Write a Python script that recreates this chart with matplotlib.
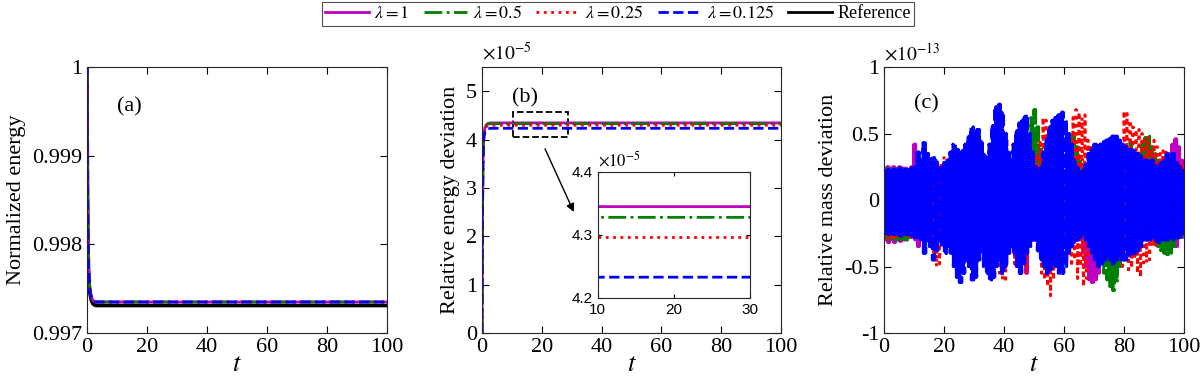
import numpy as np
import matplotlib
matplotlib.use("Agg")
from matplotlib import pyplot as plt
from matplotlib.patches import Rectangle
from matplotlib.lines import Line2D

plt.rcParams['font.family'] = ['Liberation Serif', 'DejaVu Serif']
plt.rcParams['mathtext.fontset'] = 'stix'
plt.rcParams['axes.unicode_minus'] = False

# legend / series labels
labels = [r'$\lambda=1$', r'$\lambda=0.5$', r'$\lambda=0.25$', r'$\lambda=0.125$', 'Reference']
colors = ['#c000c0', '#008000', '#ff0000', '#0000ff', 'black']
styles = ['-', '-.', ':', '--', '-']

# (a) normalized energy
t_a = [0, 0.1, 0.2, 0.3, 0.5, 0.75, 1.0, 1.5, 2.0, 2.5, 3.0, 100]
energy_num = [1.0, 0.9990, 0.9985, 0.9981, 0.99775, 0.99758, 0.99748, 0.99740,
              0.99737, 0.997355, 0.99735, 0.99735]
energy_ref = [1.0, 0.9990, 0.9985, 0.9981, 0.99772, 0.99754, 0.99744, 0.99736,
              0.99733, 0.997315, 0.99731, 0.99731]

# (b) relative energy deviation, in units of 1e-5
t_b = [0, 0.1, 0.2, 0.3, 0.5, 0.75, 1.0, 1.5, 2.0, 3.0, 100]
dev_l1 = [0, 1.5, 2.8, 3.5, 4.0, 4.17, 4.25, 4.31, 4.335, 4.345, 4.345]
dev_l05 = [0, 1.5, 2.8, 3.5, 4.0, 4.16, 4.24, 4.30, 4.32, 4.328, 4.328]
dev_l025 = [0, 1.5, 2.8, 3.5, 4.0, 4.14, 4.22, 4.27, 4.29, 4.296, 4.296]
dev_l0125 = [0, 1.5, 2.8, 3.5, 3.95, 4.09, 4.16, 4.21, 4.225, 4.233, 4.233]

# (c) relative mass deviation envelopes (units of 1e-13), one value per t = 0..100
t_c = list(range(101))
blue_up = [0.22, 0.23, 0.22, 0.23, 0.22, 0.24, 0.22, 0.23, 0.22, 0.24,
           0.25, 0.36, 0.30, 0.43, 0.35, 0.30, 0.34, 0.30, 0.25, 0.26,
           0.28, 0.30, 0.36, 0.42, 0.38, 0.35, 0.37, 0.42, 0.48, 0.55,
           0.50, 0.53, 0.45, 0.35, 0.32, 0.42, 0.56, 0.70, 0.72, 0.66,
           0.50, 0.36, 0.30, 0.42, 0.52, 0.58, 0.62, 0.63, 0.50, 0.36,
           0.25, 0.20, 0.24, 0.36, 0.46, 0.55, 0.60, 0.62, 0.64, 0.66,
           0.60, 0.50, 0.42, 0.30, 0.25, 0.20, 0.22, 0.27, 0.35, 0.38,
           0.42, 0.40, 0.42, 0.44, 0.45, 0.46, 0.48, 0.48, 0.45, 0.42,
           0.40, 0.38, 0.38, 0.37, 0.35, 0.33, 0.30, 0.30, 0.28, 0.30,
           0.26, 0.25, 0.28, 0.30, 0.35, 0.30, 0.35, 0.28, 0.25, 0.22,
           0.20]
blue_lo = [-0.25, -0.26, -0.25, -0.26, -0.25, -0.27, -0.25, -0.26, -0.26, -0.27,
           -0.28, -0.28, -0.30, -0.40, -0.30, -0.35, -0.45, -0.38, -0.30, -0.35,
           -0.40, -0.35, -0.40, -0.50, -0.58, -0.62, -0.55, -0.45, -0.50, -0.60,
           -0.58, -0.45, -0.40, -0.50, -0.55, -0.60, -0.58, -0.50, -0.45, -0.55,
           -0.50, -0.40, -0.35, -0.40, -0.50, -0.55, -0.48, -0.40, -0.35, -0.30,
           -0.30, -0.38, -0.45, -0.50, -0.55, -0.52, -0.48, -0.50, -0.55, -0.55,
           -0.50, -0.40, -0.35, -0.32, -0.30, -0.28, -0.25, -0.30, -0.35, -0.40,
           -0.45, -0.50, -0.48, -0.45, -0.42, -0.45, -0.48, -0.45, -0.42, -0.45,
           -0.45, -0.42, -0.40, -0.40, -0.38, -0.35, -0.30, -0.30, -0.30, -0.28,
           -0.30, -0.32, -0.30, -0.30, -0.30, -0.28, -0.30, -0.28, -0.30, -0.25,
           -0.22]
red_up = [0.20, 0.20, 0.20, 0.22, 0.20, 0.22, 0.20, 0.20, 0.22, 0.26,
          0.22, 0.20, 0.22, 0.20, 0.22, 0.20, 0.22, 0.22, 0.26, 0.28,
          0.33, 0.30, 0.20, 0.20, 0.22, 0.20, 0.22, 0.20, 0.22, 0.20,
          0.20, 0.22, 0.20, 0.20, 0.22, 0.20, 0.20, 0.22, 0.20, 0.45,
          0.48, 0.46, 0.30, 0.20, 0.22, 0.20, 0.22, 0.20, 0.30, 0.32,
          0.30, 0.35, 0.45, 0.62, 0.60, 0.55, 0.45, 0.40, 0.35, 0.30,
          0.30, 0.35, 0.45, 0.62, 0.68, 0.66, 0.62, 0.64, 0.45, 0.42,
          0.40, 0.38, 0.35, 0.30, 0.30, 0.30, 0.30, 0.30, 0.35, 0.45,
          0.67, 0.65, 0.60, 0.55, 0.53, 0.53, 0.50, 0.45, 0.48, 0.38,
          0.45, 0.40, 0.35, 0.37, 0.38, 0.30, 0.28, 0.25, 0.30, 0.28,
          0.25]
red_lo = [-0.28, -0.30, -0.28, -0.30, -0.28, -0.30, -0.28, -0.29, -0.30, -0.28,
          -0.28, -0.26, -0.26, -0.30, -0.30, -0.30, -0.40, -0.50, -0.48, -0.30,
          -0.30, -0.30, -0.35, -0.35, -0.30, -0.30, -0.30, -0.30, -0.30, -0.30,
          -0.30, -0.30, -0.30, -0.30, -0.49, -0.35, -0.30, -0.40, -0.55, -0.60,
          -0.62, -0.40, -0.30, -0.48, -0.30, -0.30, -0.45, -0.55, -0.35, -0.30,
          -0.30, -0.40, -0.55, -0.60, -0.65, -0.72, -0.60, -0.45, -0.40, -0.35,
          -0.35, -0.40, -0.50, -0.45, -0.59, -0.50, -0.65, -0.59, -0.40, -0.35,
          -0.35, -0.30, -0.30, -0.30, -0.30, -0.30, -0.30, -0.35, -0.40, -0.50,
          -0.45, -0.55, -0.51, -0.45, -0.55, -0.58, -0.50, -0.47, -0.45, -0.35,
          -0.34, -0.30, -0.30, -0.28, -0.28, -0.28, -0.28, -0.28, -0.28, -0.28,
          -0.25]
green_up = [0.23, 0.24, 0.22, 0.24, 0.23, 0.24, 0.22, 0.22, 0.23, 0.22,
            0.22, 0.22, 0.22, 0.22, 0.28, 0.22, 0.22, 0.22, 0.22, 0.22,
            0.22, 0.22, 0.22, 0.22, 0.22, 0.22, 0.22, 0.22, 0.22, 0.22,
            0.22, 0.22, 0.22, 0.22, 0.22, 0.22, 0.22, 0.22, 0.22, 0.22,
            0.22, 0.22, 0.22, 0.22, 0.22, 0.22, 0.30, 0.40, 0.50, 0.62,
            0.68, 0.55, 0.38, 0.30, 0.25, 0.22, 0.22, 0.22, 0.22, 0.22,
            0.22, 0.25, 0.35, 0.50, 0.40, 0.30, 0.22, 0.22, 0.22, 0.22,
            0.22, 0.22, 0.22, 0.22, 0.22, 0.22, 0.22, 0.22, 0.22, 0.22,
            0.30, 0.38, 0.43, 0.35, 0.30, 0.35, 0.42, 0.47, 0.48, 0.40,
            0.35, 0.30, 0.28, 0.25, 0.25, 0.25, 0.25, 0.25, 0.22, 0.22,
            0.20]
green_lo = [-0.28, -0.30, -0.29, -0.30, -0.30, -0.30, -0.29, -0.30, -0.28, -0.27,
            -0.27, -0.27, -0.27, -0.27, -0.27, -0.27, -0.27, -0.27, -0.27, -0.27,
            -0.27, -0.27, -0.27, -0.27, -0.27, -0.27, -0.30, -0.39, -0.35, -0.27,
            -0.27, -0.27, -0.27, -0.27, -0.27, -0.27, -0.27, -0.27, -0.27, -0.27,
            -0.27, -0.27, -0.27, -0.27, -0.27, -0.27, -0.27, -0.27, -0.27, -0.27,
            -0.27, -0.27, -0.27, -0.27, -0.27, -0.27, -0.27, -0.27, -0.27, -0.27,
            -0.27, -0.27, -0.27, -0.27, -0.27, -0.27, -0.27, -0.27, -0.27, -0.27,
            -0.30, -0.35, -0.45, -0.55, -0.60, -0.65, -0.68, -0.62, -0.50, -0.40,
            -0.35, -0.30, -0.30, -0.30, -0.30, -0.30, -0.30, -0.30, -0.30, -0.30,
            -0.32, -0.35, -0.38, -0.40, -0.41, -0.40, -0.35, -0.30, -0.28, -0.27,
            -0.25]
mag_up = [0.23, 0.25, 0.24, 0.25, 0.24, 0.25, 0.24, 0.24, 0.23, 0.25,
          0.42, 0.35, 0.25, 0.22, 0.22, 0.22, 0.22, 0.22, 0.22, 0.22,
          0.22, 0.22, 0.22, 0.22, 0.22, 0.22, 0.22, 0.22, 0.22, 0.22,
          0.22, 0.22, 0.22, 0.22, 0.22, 0.22, 0.22, 0.22, 0.22, 0.22,
          0.22, 0.22, 0.22, 0.22, 0.22, 0.22, 0.22, 0.22, 0.22, 0.22,
          0.22, 0.22, 0.22, 0.22, 0.22, 0.22, 0.22, 0.22, 0.22, 0.22,
          0.22, 0.22, 0.22, 0.22, 0.22, 0.22, 0.22, 0.22, 0.22, 0.22,
          0.22, 0.22, 0.22, 0.22, 0.22, 0.22, 0.22, 0.22, 0.22, 0.22,
          0.22, 0.22, 0.22, 0.22, 0.22, 0.22, 0.22, 0.22, 0.22, 0.22,
          0.25, 0.28, 0.30, 0.32, 0.33, 0.35, 0.42, 0.46, 0.40, 0.30,
          0.25]
mag_lo = [-0.30, -0.32, -0.30, -0.32, -0.30, -0.31, -0.30, -0.30, -0.28, -0.28,
          -0.30, -0.35, -0.30, -0.28, -0.28, -0.28, -0.28, -0.28, -0.28, -0.28,
          -0.28, -0.28, -0.28, -0.28, -0.28, -0.28, -0.28, -0.28, -0.28, -0.28,
          -0.28, -0.28, -0.28, -0.28, -0.28, -0.28, -0.28, -0.28, -0.28, -0.28,
          -0.28, -0.28, -0.28, -0.28, -0.28, -0.28, -0.28, -0.55, -0.28, -0.28,
          -0.28, -0.28, -0.28, -0.28, -0.28, -0.28, -0.28, -0.28, -0.28, -0.28,
          -0.28, -0.28, -0.28, -0.28, -0.28, -0.30, -0.40, -0.50, -0.60, -0.62,
          -0.60, -0.55, -0.45, -0.35, -0.30, -0.28, -0.28, -0.28, -0.28, -0.28,
          -0.28, -0.28, -0.28, -0.28, -0.28, -0.28, -0.28, -0.28, -0.28, -0.28,
          -0.28, -0.28, -0.28, -0.28, -0.28, -0.28, -0.28, -0.35, -0.28, -0.28,
          -0.25]

FS = 16


def style_axes(ax, fs=FS):
    ax.tick_params(direction='in', top=True, right=True, length=5,
                   labelsize=fs, width=0.8)
    for s in ax.spines.values():
        s.set_color('#262626')
        s.set_linewidth(0.8)


def zigzag(t, up, lo, n=8):
    # draw the oscillation band as alternating upper / lower readings
    t = np.asarray(t, float)
    up = np.asarray(up)
    lo = np.asarray(lo)
    xs, ys = [], []
    for k in range(n):
        xs.append(t + k / n)
        ys.append(up if k % 2 == 0 else lo)
    x = np.column_stack(xs).ravel()
    y = np.column_stack(ys).ravel()
    keep = x <= 100
    return x[keep], y[keep]


fig = plt.figure(figsize=(12, 3.83), dpi=100)

# ---- (a)
ax1 = fig.add_axes([0.0725, 0.1305, 0.25, 0.6945])
ax1.plot(t_a, energy_ref, color='black', lw=2.6)
for c, ls in zip(colors[:4], styles[:4]):
    ax1.plot(t_a, energy_num, color=c, ls=ls, lw=2)
ax1.set_xlim(0, 100)
ax1.set_ylim(0.997, 1.0)
ax1.set_yticks([0.997, 0.998, 0.999, 1.0])
ax1.set_yticklabels(['0.997', '0.998', '0.999', '1'])
ax1.set_xticks([0, 20, 40, 60, 80, 100])
ax1.set_ylabel('Normalized energy', fontsize=FS)
ax1.set_xlabel('$t$', fontsize=19, labelpad=-2)
ax1.text(10, 0.99955, '(a)', fontsize=FS, va='center')
style_axes(ax1)

# ---- (b)
ax2 = fig.add_axes([0.4017, 0.1305, 0.249, 0.6945])
devs = [dev_l1, dev_l05, dev_l025, dev_l0125]
for d, c, ls in zip(devs, colors, styles):
    ax2.plot(t_b, d, color=c, ls=ls, lw=2)
ax2.set_xlim(0, 100)
ax2.set_ylim(0, 5.5)
ax2.set_yticks([0, 1, 2, 3, 4, 5])
ax2.set_xticks([0, 20, 40, 60, 80, 100])
ax2.set_ylabel('Relative energy deviation', fontsize=FS)
ax2.set_xlabel('$t$', fontsize=19, labelpad=-2)
ax2.text(10, 4.87, '(b)', fontsize=FS, va='center')
ax2.text(0.0, 1.01, r'$\times10^{-5}$', transform=ax2.transAxes, fontsize=14,
         va='bottom', ha='left')
ax2.add_patch(Rectangle((10.4, 4.05), 18.4, 0.51, fill=False, ls='--',
                        lw=1.3, ec='black'))
ax2.annotate('', xy=(31.1, 2.45), xytext=(20.7, 3.86),
             arrowprops=dict(arrowstyle='-|>', color='black', lw=1,
                             mutation_scale=12))
style_axes(ax2)

ins = fig.add_axes([0.498, 0.222, 0.1267, 0.329])
for d, c, ls in zip(devs, colors, styles):
    ins.plot(t_b, d, color=c, ls=ls, lw=2)
ins.set_xlim(10, 30)
ins.set_ylim(4.2, 4.4)
ins.set_xticks([10, 20, 30])
ins.set_yticks([4.2, 4.3, 4.4])
ins.text(0.0, 1.01, r'$\times10^{-5}$', transform=ins.transAxes, fontsize=12,
         va='bottom', ha='left')
style_axes(ins, fs=12)
ins.tick_params(length=3)
for lab in ins.get_xticklabels() + ins.get_yticklabels():
    lab.set_family(['Liberation Sans', 'DejaVu Sans'])
    lab.set_fontsize(11)

# ---- (c)
ax3 = fig.add_axes([0.7367, 0.1305, 0.25, 0.6945])
bands = [(mag_up, mag_lo), (green_up, green_lo), (red_up, red_lo), (blue_up, blue_lo)]
density = [4, 4, 2, 8]
for (up, lo), c, ls, n in zip(bands, colors, styles, density):
    x, y = zigzag(t_c, up, lo, n)
    ax3.plot(x, y, color=c, ls=ls, lw=2.2)
ax3.set_xlim(0, 100)
ax3.set_ylim(-1, 1)
ax3.set_yticks([-1, -0.5, 0, 0.5, 1])
ax3.set_yticklabels(['-1', '-0.5', '0', '0.5', '1'])
ax3.set_xticks([0, 20, 40, 60, 80, 100])
ax3.set_ylabel('Relative mass deviation', fontsize=FS)
ax3.set_xlabel('$t$', fontsize=19, labelpad=-2)
ax3.text(10, 0.72, '(c)', fontsize=FS, va='center')
ax3.text(0.0, 1.01, r'$\times10^{-13}$', transform=ax3.transAxes, fontsize=14,
         va='bottom', ha='left')
style_axes(ax3)

handles = [Line2D([], [], color=c, ls=ls, lw=2) for c, ls in zip(colors, styles)]
leg = fig.legend(handles, labels, loc='upper center', bbox_to_anchor=(0.515, 1.0),
                 ncol=5, fontsize=13, frameon=True, fancybox=False,
                 edgecolor='#262626', handlelength=2.4, handletextpad=0.3,
                 columnspacing=0.8, borderpad=0.2, borderaxespad=0.1)
leg.get_frame().set_linewidth(0.8)

fig.savefig('out.png', dpi=100)
